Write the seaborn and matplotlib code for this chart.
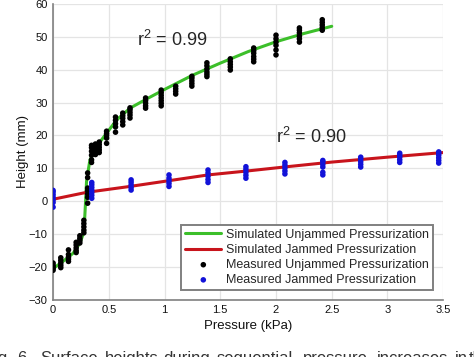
import numpy as np
import pandas as pd
import matplotlib
matplotlib.use("Agg")
import matplotlib.pyplot as plt
import seaborn as sns

# simulated curves
sim_unj_x = [0.0, 0.1, 0.18, 0.24, 0.27, 0.28, 0.29, 0.30, 0.33, 0.38, 0.48, 0.57,
             0.69, 0.85, 1.0, 1.25, 1.5, 1.75, 2.0, 2.25, 2.5]
sim_unj_y = [-20.5, -18.0, -15.8, -12.8, -10.0, -7.5, -1.0, 6.0, 12.5, 16.2, 20.7, 24.7,
             28.3, 31.3, 34.0, 38.3, 42.0, 45.5, 48.5, 51.0, 53.2]
sim_jam_x = [0.0, 0.3, 0.69, 1.05, 1.39, 1.77, 2.1, 2.5, 3.0, 3.5]
sim_jam_y = [0.6, 2.7, 4.5, 6.3, 8.0, 9.3, 10.5, 11.9, 13.4, 14.8]

# measured unjammed: pressure steps and the heights recorded at each
unj_press = [0.0, 0.069, 0.138, 0.207, 0.24, 0.276, 0.31, 0.345, 0.38, 0.414, 0.48,
             0.56, 0.625, 0.69, 0.83, 0.97, 1.10, 1.245, 1.38, 1.59, 1.80, 2.0, 2.21, 2.415]
unj_heights = [
    [-18.8, -19.5, -20.0, -20.5, -21.0],
    [-17.2, -18.0, -18.8, -19.5, -20.2],
    [-14.8, -16.2, -17.0, -17.6, -18.3],
    [-12.5, -13.3, -14.2, -15.0, -15.6],
    [-10.5, -11.3, -12.0, -12.7],
    [-5.8, -6.8, -7.8, -8.8, -9.6],
    [-0.6, 1.2, 2.2, 3.2, 4.0, 7.2, 8.6],
    [11.8, 12.6, 14.0, 15.2, 16.3, 17.0],
    [14.2, 15.0, 15.8, 16.6, 17.4],
    [14.8, 15.6, 16.4, 17.2, 18.0],
    [17.6, 19.2, 20.0, 20.6, 21.3],
    [21.0, 22.6, 23.6, 24.6, 25.6],
    [23.2, 24.2, 25.2, 26.0, 26.8],
    [25.3, 26.2, 27.0, 27.8, 28.4],
    [28.3, 29.0, 29.8, 30.6, 31.4],
    [29.0, 29.8, 30.6, 31.4, 32.2, 33.0, 33.8],
    [32.6, 33.4, 34.2, 35.0],
    [35.0, 35.8, 36.6, 37.4, 38.0],
    [37.9, 38.6, 39.3, 40.2, 41.2, 42.1],
    [39.9, 40.8, 41.6, 42.4, 43.3],
    [42.4, 43.2, 44.0, 45.0, 45.8, 46.6],
    [44.5, 46.0, 47.4, 48.4, 49.4, 50.5],
    [48.4, 49.4, 50.2, 51.2, 52.0, 52.7],
    [52.0, 52.8, 53.6, 54.4, 55.2],
]

# measured jammed
jam_press = [0.0, 0.347, 0.70, 1.04, 1.39, 1.73, 2.08, 2.42, 2.76, 3.11, 3.46]
jam_heights = [
    [-1.8, -0.4, 0.4, 1.2, 2.0, 2.8, 3.3],
    [0.9, 1.8, 2.6, 3.4, 4.2, 5.0, 5.7],
    [3.4, 4.2, 5.0, 5.8, 6.5],
    [4.5, 5.4, 6.2, 7.0, 8.0],
    [5.7, 6.6, 7.6, 8.6, 9.5],
    [7.0, 7.9, 8.8, 9.7, 10.5],
    [8.3, 9.2, 10.1, 11.0, 11.8],
    [8.0, 8.8, 10.4, 11.2, 12.0, 12.4],
    [10.4, 11.2, 12.0, 12.8, 13.4],
    [11.8, 12.6, 13.4, 14.0, 14.6],
    [11.6, 12.4, 13.2, 14.0, 14.6, 15.0],
]

xticks = [0, 0.5, 1, 1.5, 2, 2.5, 3, 3.5]
xticklabels = ["0", "0.5", "1", "1.5", "2", "2.5", "3", "3.5"]
yticks = [-30, -20, -10, 0, 10, 20, 30, 40, 50, 60]

# caption below the plot, cut off by the image edges like in the source
caption_words = ["Fig.", "6.", "Surface", "heights", "during", "sequential",
                 "pressure", "increases", "in", "the"]
caption_x = [-15, 17, 40, 105, 163, 217, 303, 377, 455, 469]


def to_frame(press, heights):
    counts = [len(h) for h in heights]
    return pd.DataFrame({"Pressure": np.repeat(press, counts),
                         "Height": np.concatenate(heights)})


df_unj = to_frame(unj_press, unj_heights)
df_jam = to_frame(jam_press, jam_heights)

sns.set_style("whitegrid", {"grid.color": "#e4e4e4", "axes.edgecolor": "#808080"})
plt.rcParams['font.family'] = ['Liberation Sans', 'DejaVu Sans']
plt.rcParams['mathtext.fontset'] = 'custom'
plt.rcParams['mathtext.rm'] = 'Liberation Sans'
plt.rcParams['mathtext.it'] = 'Liberation Sans'

fig = plt.figure(figsize=(4.74, 3.57), dpi=100)
ax = fig.add_axes([0.112, 0.160, 0.823, 0.829])

sns.lineplot(x=sim_unj_x, y=sim_unj_y, sort=False, color="#3cbf2a", lw=2.2,
             label="Simulated Unjammed Pressurization", ax=ax)
sns.lineplot(x=sim_jam_x, y=sim_jam_y, sort=False, color="#c8141c", lw=2.2,
             label="Simulated Jammed Pressurization", ax=ax)
sns.scatterplot(data=df_unj, x="Pressure", y="Height", color="black", s=16,
                edgecolor="none", zorder=3, label="Measured Unjammed Pressurization", ax=ax)
sns.scatterplot(data=df_jam, x="Pressure", y="Height", color="#1212d8", s=16,
                edgecolor="none", zorder=3, label="Measured Jammed Pressurization", ax=ax)

ax.set_xlim(0, 3.5)
ax.set_ylim(-30, 60)
ax.set_xticks(xticks)
ax.set_xticklabels(xticklabels)
ax.set_yticks(yticks)
ax.tick_params(direction="in", length=3, width=1, color="#808080",
               labelsize=8, pad=4, labelcolor="#111111")
for s in ["top", "right"]:
    ax.spines[s].set_visible(False)
for s in ["left", "bottom"]:
    ax.spines[s].set_linewidth(1.2)
ax.grid(True, lw=0.9)
ax.set_axisbelow(True)

ax.set_xlabel("Pressure (kPa)", fontsize=9.5, labelpad=3, color="#111111")
ax.set_ylabel("Height (mm)", fontsize=9.5, color="#111111")
ax.yaxis.set_label_coords(-0.062, 0.5)

ax.text(0.75, 49, r"r$^{2}$ = 0.99", fontsize=13, va="center", ha="left")
ax.text(2.0, 19.6, r"r$^{2}$ = 0.90", fontsize=13, va="center", ha="left")

leg = ax.legend(loc="lower right", fontsize=9, fancybox=False, framealpha=1,
                edgecolor="#808080", handlelength=2.9, handletextpad=0.4,
                labelspacing=0.25, borderpad=0.3, borderaxespad=0.8)
leg.get_frame().set_linewidth(1.4)

for w, xp in zip(caption_words, caption_x):
    fig.text(xp / 474, 0.017, w, fontsize=12, va="top", ha="left", color="#333333")

fig.savefig("out.png", dpi=100)
